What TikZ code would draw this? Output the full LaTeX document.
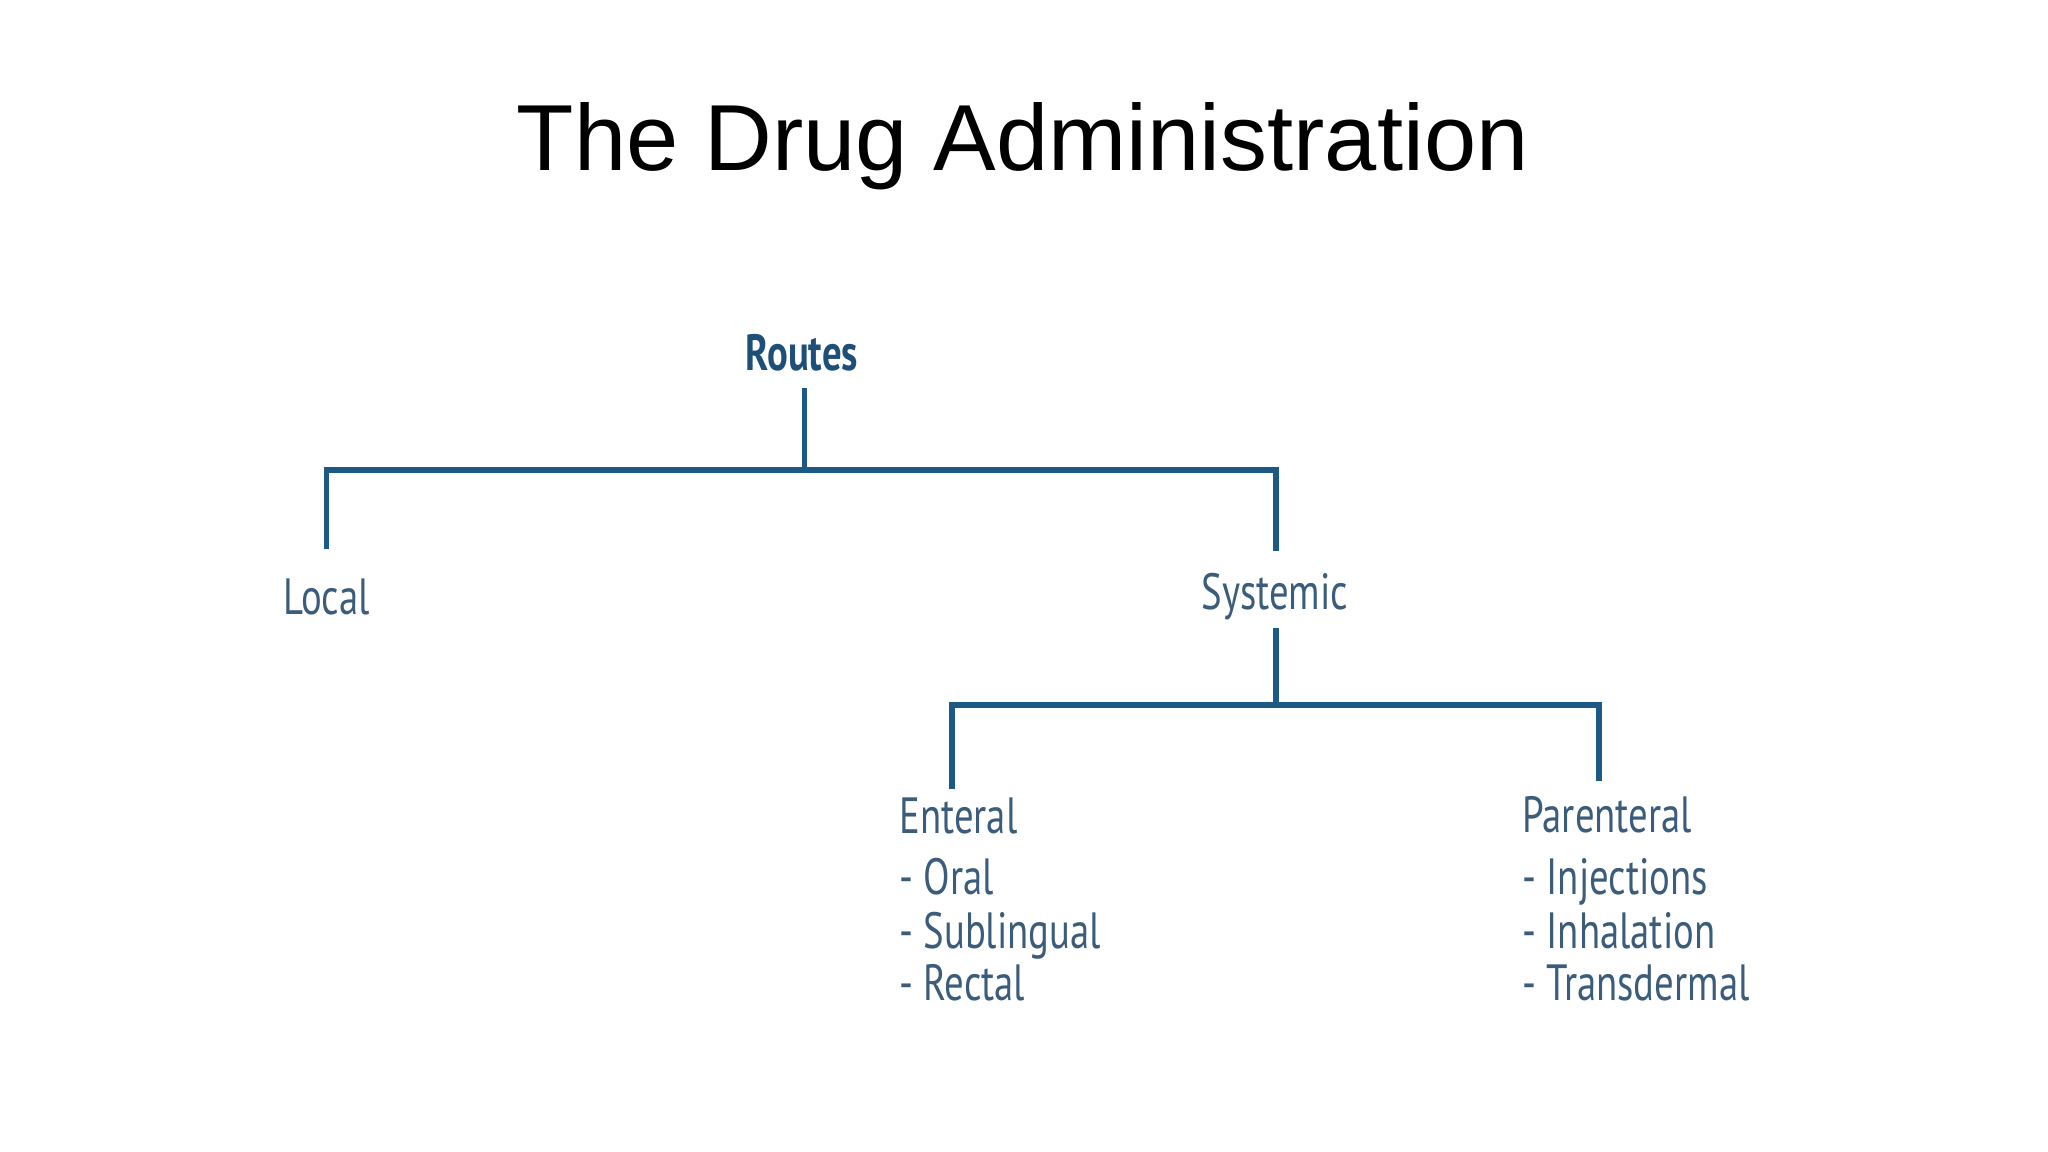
\documentclass[tikz,border=0pt]{standalone}
\usepackage{fontspec}
\setmainfont{Liberation Sans}
\newfontfamily\cond{PT Sans}[FakeStretch=0.76]
\begin{document}
\begin{tikzpicture}[x=0.01306cm,y=-0.01306cm,
  lab/.style={font=\cond\fontsize{14.5}{17}\selectfont,text=txt,inner sep=0pt},
  item/.style={lab,anchor=base west},
  ln/.style={draw=bl,line width=1.6pt}]
\definecolor{bl}{HTML}{1C5A85}
\definecolor{txt}{HTML}{3B5C7A}
\definecolor{hd}{HTML}{1E4F78}
\useasboundingbox (0,0) rectangle (1568,882);
\node[font=\fontsize{26.7}{32}\selectfont,inner sep=0pt] (title) at (783,112) {The Drug Administration};
\node[lab,font=\cond\bfseries\fontsize{14.5}{17}\selectfont,text=hd] (routes) at (614,270) {Routes};
\node[lab] (local) at (250,457) {Local};
\node[lab] (sys) at (976,457) {Systemic};
\node[item] (ent) at (688,638) {Enteral};
\node[item] (e1) at (688,685) {- Oral};
\node[item] (e2) at (688,726) {- Sublingual};
\node[item] (e3) at (688,766) {- Rectal};
\node[item] (par) at (1165,637) {Parenteral};
\node[item] (p1) at (1165,685) {- Injections};
\node[item] (p2) at (1165,726) {- Inhalation};
\node[item] (p3) at (1165,766) {- Transdermal};
\coordinate (r0) at (616,297); \coordinate (rb) at (616,360);
\coordinate (l0) at (250,420); \coordinate (s0) at (977,422);
\coordinate (s1) at (977,481); \coordinate (sb) at (977,540);
\coordinate (e0) at (729,604); \coordinate (p0) at (1224,598);
\draw[ln] (r0) -- (rb);
\draw[ln] (l0) |- (rb) -| (s0);
\draw[ln] (s1) -- (sb);
\draw[ln] (e0) |- (sb) -| (p0);
\end{tikzpicture}
\end{document}
